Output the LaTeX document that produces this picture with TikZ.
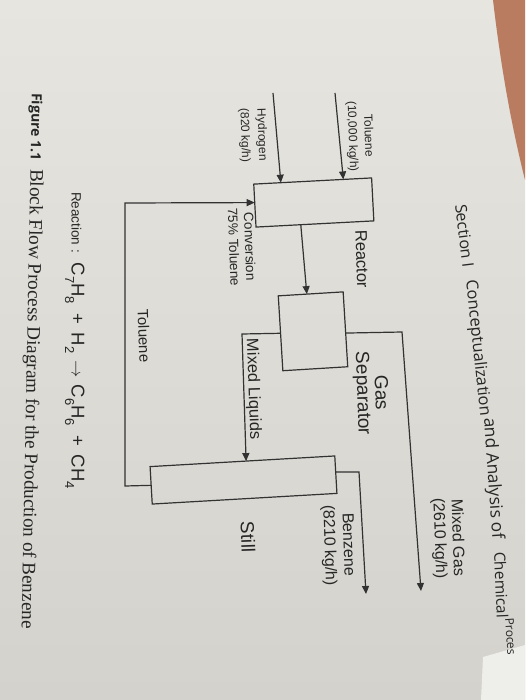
\documentclass[tikz,border=0pt]{standalone}
\usepackage{fontspec}
\setmainfont{Liberation Sans}
\newfontfamily\capserif{Liberation Serif}
\newfontfamily\headsans{Open Sans}
\usetikzlibrary{arrows.meta,calc}
\definecolor{paperA}{RGB}{230,229,223}
\definecolor{paperB}{RGB}{211,210,204}
\definecolor{tablewood}{RGB}{186,124,96}
\definecolor{ink}{RGB}{50,50,50}
\definecolor{txt}{RGB}{38,38,38}
\definecolor{pagetwo}{RGB}{238,238,235}
\newcommand{\fsz}[2]{\fontsize{#1}{#2}\selectfont}
\newcommand{\chemsub}[1]{\raisebox{-6.5pt}{\fsz{13}{13}#1}}
\begin{document}
\begin{tikzpicture}[x=1pt,y=-1pt,
  blk/.style={draw=ink, line width=1.2pt, inner sep=0pt, outer sep=0pt},
  flow/.style={draw=ink, line width=1.2pt, -{Triangle[length=8pt,width=7pt]}},
  lbl/.style={text=txt, align=center, inner sep=0pt, rotate=-88},
  hdr/.style={text=txt, inner sep=0pt, anchor=base west}]
\useasboundingbox (0,0) rectangle (525,700);
\shade[top color=paperA, bottom color=paperB] (0,0) rectangle (525,700);
\fill[tablewood] (493,0) .. controls (500,60) and (510,120) .. (525,180) -- (525,0) -- cycle;
\fill[pagetwo] (481,700) -- (483,657) -- (525,645) -- (525,700) -- cycle;

% blocks
\node[blk, minimum width=118pt, minimum height=43pt, rotate=3] (reactor) at (313.8,202.5) {};
\node[blk, minimum width=65pt, minimum height=75pt, rotate=3.5] (sep) at (313,331.3) {};
\node[blk, minimum width=185pt, minimum height=37.5pt, rotate=3.3] (still) at (243.5,480) {};

% connection points
\coordinate (tolsrc) at (335,93);
\coordinate (htwosrc) at (273,93);
\coordinate (rcA) at (125,486);
\coordinate (rcB) at (125,203);
\coordinate (mlA) at (242,334);
\coordinate (mgA) at (402,332);
\coordinate (mgend) at (421,591);
\coordinate (bzA) at (359,472);
\coordinate (bzend) at (366,594);
\coordinate (rTolIn) at ($(reactor.north west)!0.76!(reactor.north east)$);
\coordinate (rHIn) at ($(reactor.north west)!0.23!(reactor.north east)$);
\coordinate (rRecIn) at ($(reactor.north west)!0.43!(reactor.south west)$);
\coordinate (rOut) at ($(reactor.south west)!0.38!(reactor.south east)$);
\coordinate (sepIn) at ($(sep.north west)!0.44!(sep.north east)$);
\coordinate (sepGas) at ($(sep.north east)!0.55!(sep.south east)$);
\coordinate (stillIn) at ($(still.north west)!0.52!(still.north east)$);
\coordinate (stillTop) at ($(still.north east)!0.43!(still.south east)$);

% streams
\draw[flow] (tolsrc) -- (rTolIn);
\draw[flow] (htwosrc) -- (rHIn);
\draw[flow] (still.west) -- (rcA) -- (rcB) -- (rRecIn);
\draw[flow] (rOut) -- (sepIn);
\draw[flow] (sep.west) -- (mlA) -- (stillIn);
\draw[flow] (sepGas) -- (mgA) -- (mgend);
\draw[flow] (stillTop) -- (bzA) -- (bzend);

% labels
\node[lbl, font=\fsz{12}{16}] (ltol) at (360,136) {Toluene\\(10,000 kg/h)};
\node[lbl, font=\fsz{12}{17}] (lhyd) at (253,135) {Hydrogen\\(820 kg/h)};
\node[lbl, font=\fsz{13.5}{16}] (lconv) at (242,247) {Conversion\\75\% Toluene};
\node[lbl, font=\fsz{16.6}{20}] (lreac) at (362,259) {Reactor};
\node[lbl, font=\fsz{15}{18}] (lrec) at (144,336) {Toluene};
\node[lbl, font=\fsz{16.5}{20}] (lml) at (253,389) {Mixed Liquids};
\node[lbl, font=\fsz{19}{18}] (lsep) at (371,393) {Gas\\Separator};
\node[lbl, font=\fsz{19}{20}] (lstill) at (248,537) {Still};
\node[lbl, font=\fsz{16}{19}] (lbz) at (338,545) {Benzene\\(8210 kg/h)};
\node[lbl, font=\fsz{16}{18}] (lmg) at (448,538) {Mixed Gas\\(2610 kg/h)};

% reaction
\node[hdr, rotate=-90] (reac) at (71.5,192)
  {\fsz{13.5}{16}Reaction :\hspace{10pt}\fsz{18.5}{20}C\chemsub{7}H\chemsub{8}\hspace{9pt}+\hspace{9pt}H\chemsub{2}\hspace{7pt}$\rightarrow$\hspace{7pt}C\chemsub{6}H\chemsub{6}\hspace{9pt}+\hspace{9pt}CH\chemsub{4}};

% caption
\node[hdr, rotate=-91.1] (caption) at (32,93)
  {{\headsans\bfseries\fsz{14}{16}Figure 1.1}\hspace{9pt}{\capserif\fsz{19.1}{20}Block Flow Process Diagram for the Production of Benzene}};

% running header
\node[hdr, rotate=-83] (hsec) at (455,205) {\headsans\fsz{16}{17}Section I};
\node[hdr, rotate=-84] (hconc) at (466,280) {\headsans\fsz{16.4}{17}Conceptualization};
\node[hdr, rotate=-86] (hand) at (484,418) {\headsans\fsz{17.3}{18}and Analysis of};
\node[hdr, rotate=-87.5] (hchem) at (494,552) {\headsans\fsz{15.5}{16}Chemical};
\node[hdr, rotate=-86] (hproc) at (505,618) {\headsans\fsz{12}{13}Proces};
\end{tikzpicture}
\end{document}
